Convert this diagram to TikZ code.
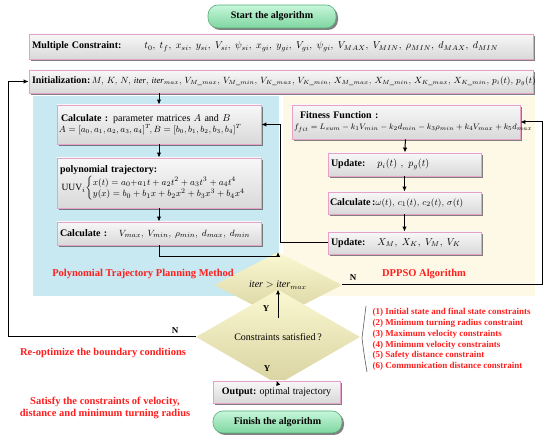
\documentclass[tikz,border=0pt]{standalone}
\usepackage{fontspec}
\setmainfont{Liberation Serif}
\usetikzlibrary{shapes.geometric,shadows,arrows.meta}
\definecolor{boxpink}{HTML}{E6A2C8}
\definecolor{bluebg}{HTML}{C8E9F2}
\definecolor{yellowbg}{HTML}{FDF9E6}
\definecolor{redtxt}{HTML}{FF1F1F}
\definecolor{greenT}{HTML}{C6F6DA}
\definecolor{greenB}{HTML}{7FD6A0}
\definecolor{greenD}{HTML}{5AAE7C}
\definecolor{diaT}{HTML}{FBF8D2}
\definecolor{diaB}{HTML}{D9D3A0}
\tikzset{
  basefont/.style={font=\fontsize{10}{12}\selectfont},
  gbox/.style={basefont, rectangle, draw=boxpink, line width=0.9pt,
    top color=gray!6, bottom color=gray!30,
    drop shadow={fill=black!70, shadow xshift=2pt, shadow yshift=-2pt, opacity=0.7},
    inner sep=3pt, align=left},
  termbox/.style={basefont, rectangle, rounded corners=10pt, draw=greenD, line width=0.6pt,
    top color=greenT, bottom color=greenB,
    drop shadow={fill=black!70, shadow xshift=2pt, shadow yshift=-2pt, opacity=0.7},
    font=\fontsize{10}{12}\selectfont\bfseries},
  decision/.style={basefont, diamond, inner sep=0pt, top color=diaT, bottom color=diaB, draw=none},
  arr/.style={line width=1pt, -{Latex[length=5pt,width=4.5pt]}},
  redlab/.style={text=redtxt, font=\fontsize{10.5}{12.5}\selectfont\bfseries},
  yn/.style={font=\fontsize{9}{11}\selectfont\bfseries},
  clist/.style={text=redtxt, font=\fontsize{9}{10.8}\selectfont\bfseries, align=left, anchor=west}
}
\newcommand{\sep}{,\;}
\begin{document}
\begin{tikzpicture}[x=1pt,y=-1pt]
\useasboundingbox (0,0) rectangle (550,438);
\fill[white] (0,0) rectangle (550,438);
% regions
\fill[bluebg] (33,96) rectangle (279,296);
\fill[yellowbg] (283,96) rectangle (535,296);
% terminals
\node[termbox, minimum width=128pt, minimum height=23pt] (start) at (272,16.5) {Start the algorithm};
\node[termbox, minimum width=129pt, minimum height=22pt] (finish) at (277.5,422) {Finish the algorithm};
% top boxes
\node[gbox, minimum width=504pt, minimum height=25pt, text width=498pt] (multi) at (281,46.5)
  {\textbf{Multiple Constraint:}\hspace{2.3em}$t_0\sep t_f\sep x_{si}\sep y_{si}\sep V_{si}\sep \psi_{si}\sep x_{gi}\sep y_{gi}\sep V_{gi}\sep \psi_{gi}\sep V_{MAX}\sep V_{MIN}\sep \rho_{MIN}\sep d_{MAX}\sep d_{MIN}$};
\node[gbox, minimum width=504pt, minimum height=23pt, text width=498pt, font=\fontsize{8.7}{11}\selectfont] (init) at (281,81.5)
  {\hbox{\textbf{\fontsize{10}{12}\selectfont Initialization:}\,$M,\,K,\,N,\,\mathit{iter},\,\mathit{iter}_{max},\,V_{M\_max},\,V_{M\_min},\,V_{K\_max},\,V_{K\_min},\,X_{M\_max},\,X_{M\_min},\,X_{K\_max},\,X_{K\_min},\,p_i(t),\,p_g(t)$}};
% left column
\node[gbox, minimum width=204pt, minimum height=39pt, text width=200pt, inner sep=2pt] (calcAB) at (159,124.5)
  {\hspace*{2pt}\textbf{Calculate :} parameter matrices $A$ and $B$\\[-1pt]{\fontsize{9}{11}\selectfont$A=[a_0,a_1,a_2,a_3,a_4]^T\!,B=[b_0,b_1,b_2,b_3,b_4]^T$}};
\node[gbox, minimum width=204pt, minimum height=50pt, text width=198pt] (poly) at (159,183)
  {\textbf{polynomial trajectory:}\\[1pt]{\fontsize{9.5}{11}\selectfont\,UUV$_i\!\left\{\begin{array}{@{}l@{}}x(t)=a_0{+}a_1t+a_2t^2+a_3t^3+a_4t^4\\ y(x)=b_0+b_1x+b_2x^2+b_3x^3+b_4x^4\end{array}\right.$}};
\node[gbox, minimum width=204pt, minimum height=23pt, text width=198pt] (calcV) at (159,233.5)
  {\textbf{Calculate :}\hspace{1.2em}{\fontsize{9.5}{11}\selectfont$V_{max}\sep V_{min}\sep \rho_{min}\sep d_{max}\sep d_{min}$}};
% right column
\node[gbox, minimum width=228pt, minimum height=34pt, text width=224pt, inner sep=2pt] (fit) at (406,122)
  {\hspace*{0.6em}\textbf{Fitness Function :}\\[-1pt]\hbox{\fontsize{8.4}{10}\selectfont$f_{fit}=L_{sum}-k_1V_{min}-k_2d_{min}-k_3\rho_{min}+k_4V_{max}+k_5d_{max}$}};
\node[gbox, minimum width=153pt, minimum height=23pt, text width=147pt] (updP) at (404.5,164.5)
  {\textbf{Update:}\hspace{1.2em}$p_i(t)\ ,\ p_g(t)$};
\node[gbox, minimum width=153pt, minimum height=22pt, text width=149pt, inner sep=2pt] (calcW) at (404.5,203)
  {\textbf{Calculate\,:}{\fontsize{9.5}{11}\selectfont$\omega(t),\,c_1(t),\,c_2(t),\,\sigma(t)$}};
\node[gbox, minimum width=153pt, minimum height=22pt, text width=147pt] (updX) at (404.5,243)
  {\textbf{Update:}\hspace{1.2em}$X_M\sep X_K\sep V_M\sep V_K$};
% decisions
\node[decision, minimum width=128pt, minimum height=30pt] (iter) at (278,285) {$\mathit{iter}>\mathit{iter}_{max}$};
\node[decision, minimum width=164pt, minimum height=36pt] (cons) at (278,337) {Constraints satisfied\,?};
% output
\node[gbox, minimum width=127pt, minimum height=22pt, align=center] (out) at (276.5,392) {\textbf{Output:} optimal trajectory};
% labels
\node[redlab] (lpoly) at (143,274) {Polynomial Trajectory Planning Method};
\node[redlab] (ldpp) at (424,274) {DPPSO Algorithm};
\node[redlab] (lre) at (103,353) {Re-optimize the boundary conditions};
\node[redlab, align=center] (lsat) at (105,408) {Satisfy the constraints of velocity,\\distance and minimum turning radius};
\node[clist] (c1) at (369,312.5) {(1) Initial state and final state constraints};
\node[clist] (c2) at (369,323.3) {(2) Minimum turning radius constraint};
\node[clist] (c3) at (369,334.1) {(3) Maximum velocity constraints};
\node[clist] (c4) at (369,344.9) {(4) Minimum velocity constraints};
\node[clist] (c5) at (369,355.7) {(5) Safety distance constraint};
\node[clist] (c6) at (369,366.5) {(6) Communication distance constraint};
\draw[gray!70!black, line width=0.6pt] (366,306) .. controls (364,322) .. (362,338) .. controls (364,354) .. (367,372);
% connectors
\draw[arr] (init.south -| calcAB.north) -- (calcAB.north);
\draw[arr] (calcAB) -- (poly);
\draw[arr] (poly) -- (calcV);
\draw[arr] (fit) -- (updP);
\draw[arr] (updP) -- (calcW);
\draw[arr] (calcW) -- (updX);
\draw[arr] (calcV.south) -- ++(0,11) -| (iter.north);
\draw[arr] (updX.west) -- (280,243) |- (calcAB.east);
\draw[arr] (iter.east) -- (542,285) |- (fit.east);
\draw[arr] (iter.south) -- (cons.north);
\draw[arr] (cons.south) -- (out.north);
\draw[arr] (cons.west) -- (8.7,337) |- (init.west);
\node[yn] (n1) at (353,278) {N};
\node[yn] (n2) at (175,331) {N};
\node[yn] (y1) at (266,309) {Y};
\node[yn] (y2) at (267,369) {Y};
\end{tikzpicture}
\end{document}
